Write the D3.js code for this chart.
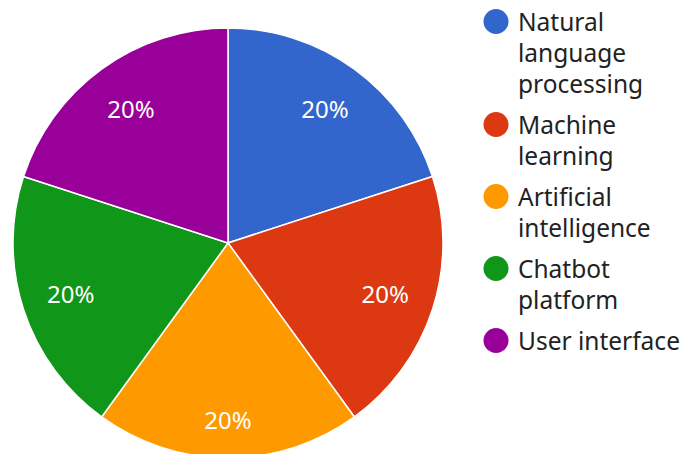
<!DOCTYPE html>
<html>
<head>
<meta charset="utf-8">
<script src="https://cdn.jsdelivr.net/npm/d3@7"></script>
<style>
  body { margin: 0; background: #fff; }
  svg { display: block; font-family: "Noto Sans", "Open Sans", sans-serif; }
</style>
</head>
<body>
<div id="chart"></div>
<script>
// chart data
var categories = ["Natural language processing", "Machine learning", "Artificial intelligence", "Chatbot platform", "User interface"];
var values = [1, 1, 1, 1, 1];
var colors = ["#3366cc", "#dc3912", "#ff9900", "#109618", "#990099"];

var w = 683, h = 454;
var cx = 228, cy = 243, radius = 215;

var svg = d3.select("#chart").append("svg")
    .attr("width", w)
    .attr("height", h);

var total = d3.sum(values);
var pct = d3.format(".0%");

var pie = d3.pie().sort(null).value(function(d) { return d; });
var arcs = pie(values);

var arc = d3.arc().innerRadius(0).outerRadius(radius);

// labels sit a bit further out towards the bottom of the pie
function labelPos(d) {
  var a = (d.startAngle + d.endAngle) / 2;
  var down = Math.max(0, -Math.cos(a));
  var r = 165 + 13 * Math.pow(down, 3);
  return [r * Math.sin(a), -r * Math.cos(a)];
}

var g = svg.append("g")
    .attr("transform", "translate(" + cx + "," + cy + ")");

g.selectAll("path")
    .data(arcs)
  .enter().append("path")
    .attr("d", arc)
    .attr("fill", function(d, i) { return colors[i]; })
    .attr("stroke", "#fff")
    .attr("stroke-width", 1.5);

g.selectAll("text.pct")
    .data(arcs)
  .enter().append("text")
    .attr("class", "pct")
    .attr("transform", function(d) { return "translate(" + labelPos(d) + ")"; })
    .attr("dy", "0.35em")
    .attr("text-anchor", "middle")
    .attr("fill", "#fff")
    .style("font-size", "24px")
    .text(function(d) { return pct(d.value / total); });

// legend, wrapped to the space on the right
var legendX = 496, textX = 518, maxWidth = 165, lineH = 31, groupGap = 10;
var legend = svg.append("g");
var yPos = 21.5;

categories.forEach(function(name, i) {
  legend.append("circle")
      .attr("cx", legendX)
      .attr("cy", yPos)
      .attr("r", 12.5)
      .attr("fill", colors[i]);

  var text = legend.append("text")
      .attr("x", textX)
      .attr("y", yPos + 9.5)
      .attr("fill", "#222")
      .style("font-size", "24.5px");

  var words = name.split(" ");
  var line = [];
  var lineCount = 1;
  var tspan = text.append("tspan").attr("x", textX).attr("dy", 0);
  words.forEach(function(word) {
    line.push(word);
    tspan.text(line.join(" "));
    if (tspan.node().getComputedTextLength() > maxWidth && line.length > 1) {
      line.pop();
      tspan.text(line.join(" "));
      line = [word];
      tspan = text.append("tspan").attr("x", textX).attr("dy", lineH).text(word);
      lineCount++;
    }
  });

  yPos += lineCount * lineH + groupGap;
});
</script>
</body>
</html>
